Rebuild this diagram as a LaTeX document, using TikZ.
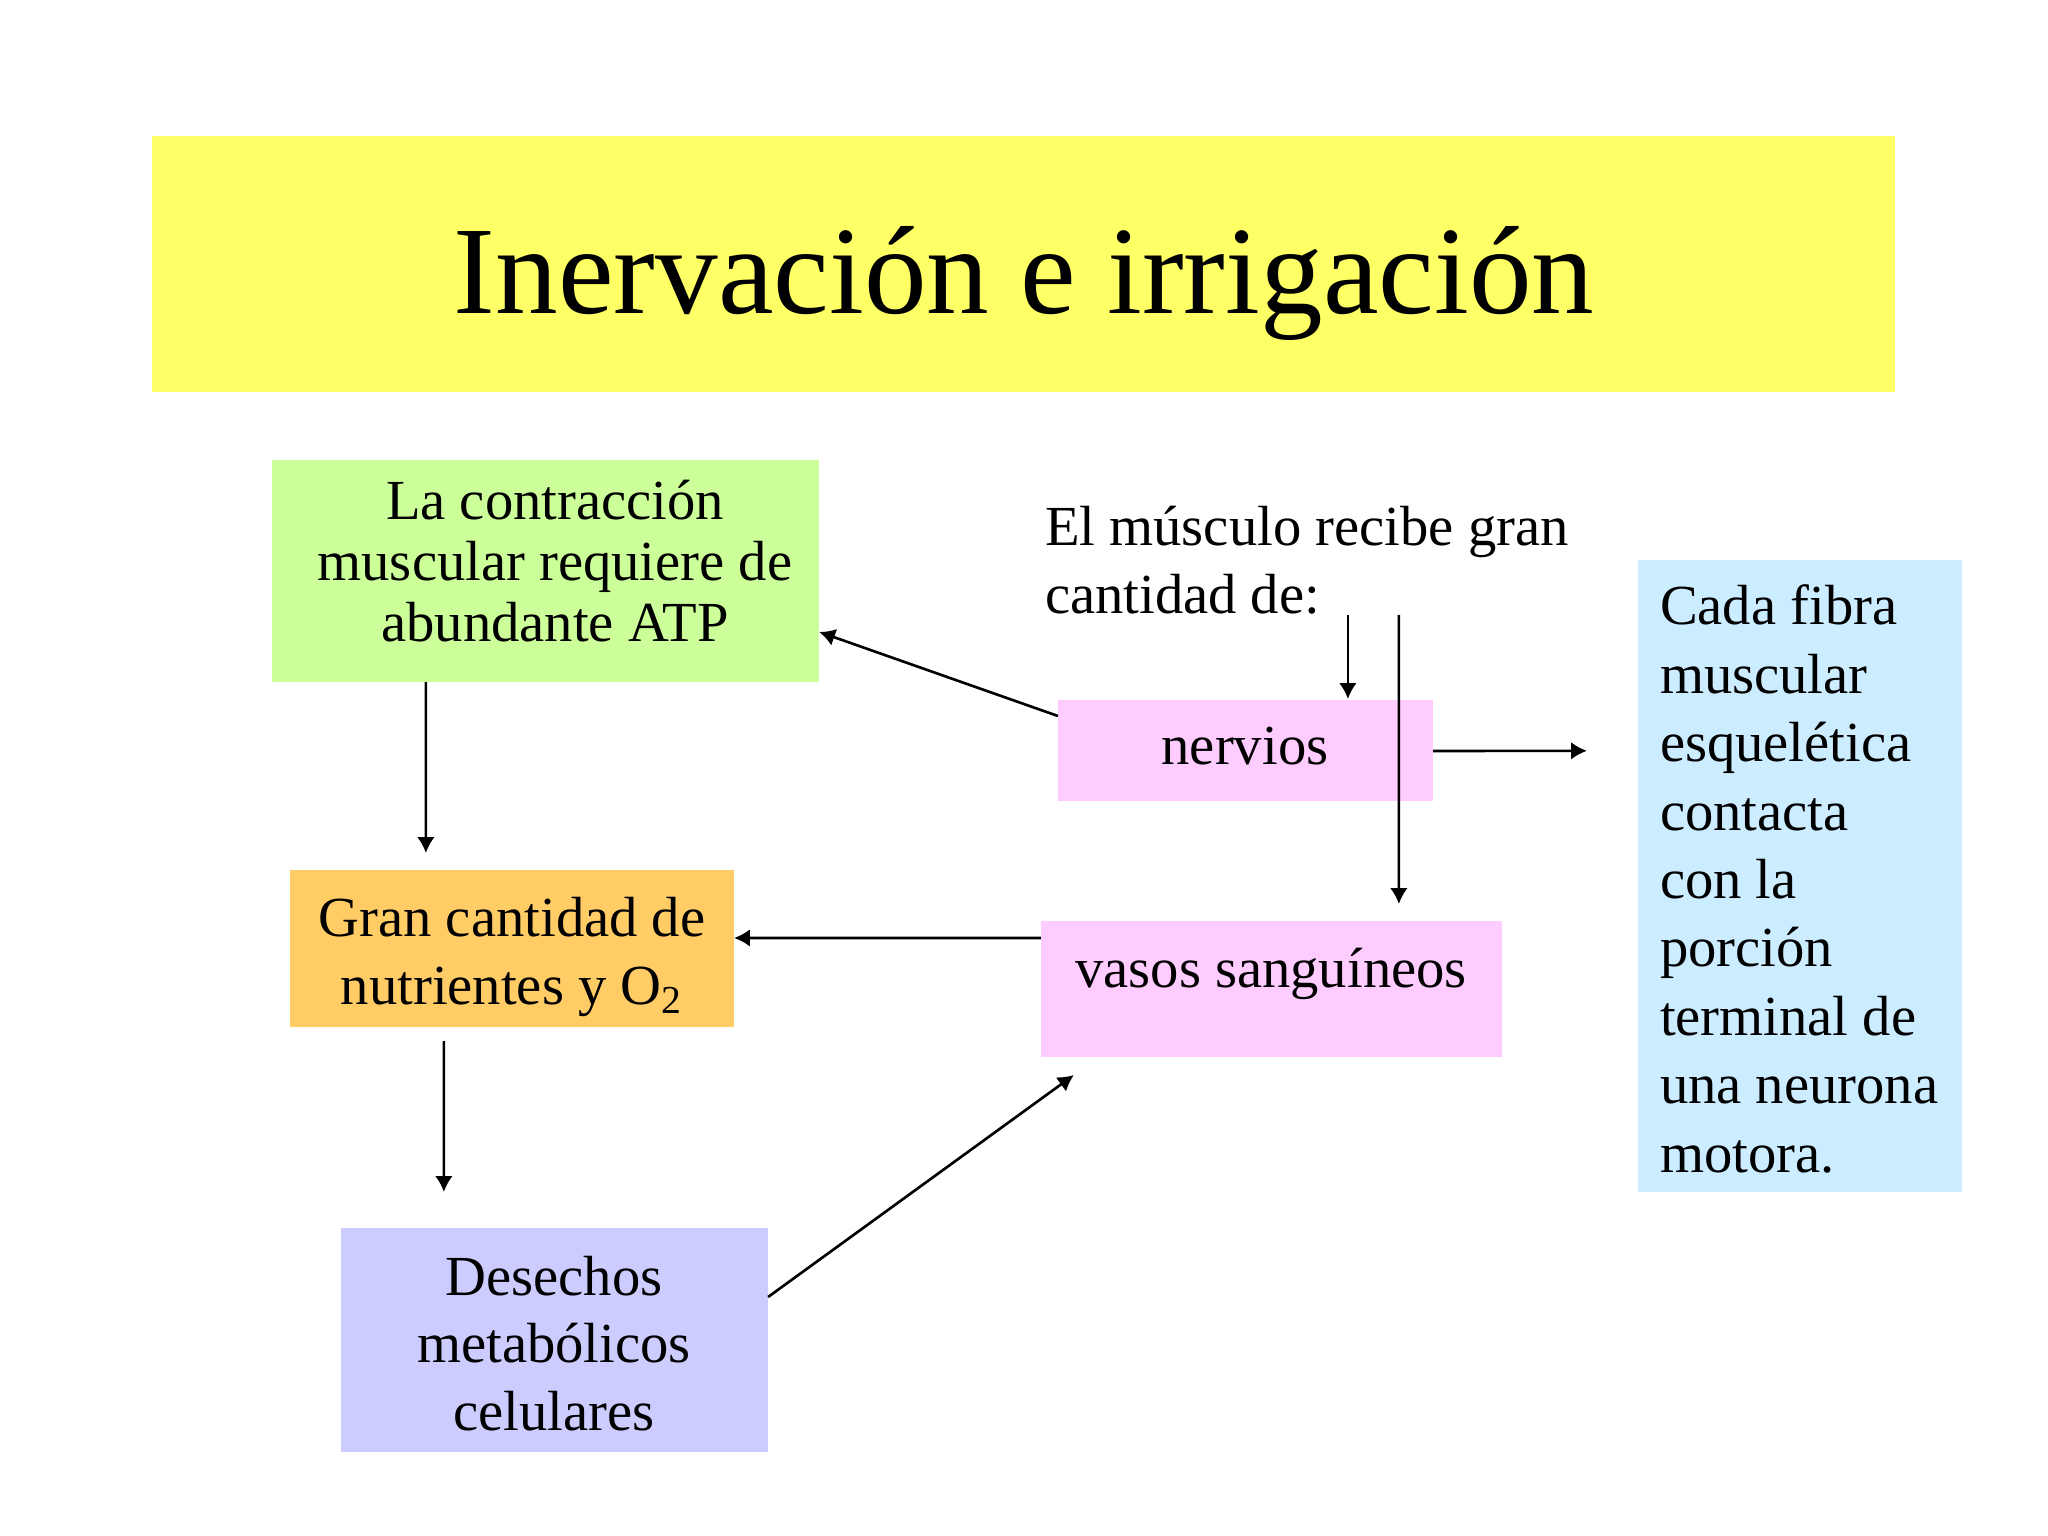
\documentclass[tikz,border=0pt]{standalone}
\usepackage{fontspec}
\setmainfont{Liberation Serif}
\usetikzlibrary{arrows.meta,calc}
\definecolor{cyellow}{HTML}{FFFF66}
\definecolor{cgreen}{HTML}{CCFF99}
\definecolor{corange}{HTML}{FFCC66}
\definecolor{cpurple}{HTML}{CCCCFF}
\definecolor{cpink}{HTML}{FFCCFF}
\definecolor{cblue}{HTML}{CCECFF}
\begin{document}
\begin{tikzpicture}[x=0.01cm,y=-0.01cm,
  box/.style={draw=none,inner sep=0pt,outer sep=0pt},
  txt/.style={inner sep=0pt,outer sep=0pt,font=\fontsize{16.1pt}{19.3pt}\selectfont},
  arr/.style={line width=0.75pt,-{Latex[length=4.5pt,width=5pt]}}]
\useasboundingbox[fill=white] (0,0) rectangle (2048,1536);
% boxes
\node[box,fill=cyellow,minimum width=17.41cm,minimum height=2.56cm] (title) at (1023.5,264) {};
\node[box,fill=cgreen,minimum width=5.47cm,minimum height=2.22cm] (green) at (545.5,571) {};
\node[box,fill=corange,minimum width=4.44cm,minimum height=1.57cm] (orange) at (512,948.5) {};
\node[box,fill=cpurple,minimum width=4.27cm,minimum height=2.24cm] (purple) at (554.5,1340) {};
\node[box,fill=cpink,minimum width=3.75cm,minimum height=1.01cm] (nerv) at (1245.5,750.5) {};
\node[box,fill=cpink,minimum width=4.61cm,minimum height=1.36cm] (vasos) at (1271.5,989) {};
\node[box,fill=cblue,minimum width=3.24cm,minimum height=6.32cm] (blue) at (1800,876) {};
% texts
\node[inner sep=0pt,anchor=base,font=\fontsize{35.6pt}{40pt}\selectfont] (titletxt) at (1024,313) {Inervación e irrigación};
\node[txt,align=center,font=\fontsize{16.1pt}{17.4pt}\selectfont] (greentxt) at (555,561) {La contracción\\muscular requiere de\\abundante ATP};
\node[txt,align=center] (orangetxt) at (512,957) {Gran cantidad de\\nutrientes y O\textsubscript{2}};
\node[txt,align=center] (purpletxt) at (554,1343.5) {Desechos\\metabólicos\\celulares};
\node[txt,anchor=base] (nervtxt) at (1245,764) {nervios};
\node[txt,anchor=base] (vasostxt) at (1271,987) {vasos sanguíneos};
\node[txt,align=left,anchor=west] (musc) at (1045,560) {El músculo recibe gran\\cantidad de:};
\node[txt,align=left,anchor=west,font=\fontsize{16.1pt}{19.45pt}\selectfont] (bluetxt) at (1660,879) {Cada fibra\\muscular\\esquelética\\contacta\\con la\\porción\\terminal de\\una neurona\\motora.};
% arrows
\draw[arr] ($(nerv.north west)+(0,16)$) -- ($(green.north east)+(0,172)$);
\draw[arr] ($(green.south west)+(154,0)$) -- ($(orange.north west)+(136,-17)$);
\draw[arr] ($(vasos.north west)+(0,17)$) -- ($(orange.north east)+(0,68)$);
\draw[arr] ($(orange.south west)+(154,14)$) -- ($(purple.north west)+(103,-36)$);
\draw[arr] ($(purple.north east)+(0,69)$) -- ($(vasos.south west)+(33,18)$);
\draw[arr] ($(nerv.north west)+(290,-85)$) -- ($(nerv.north west)+(290,-1)$);
\draw[arr] ($(nerv.north west)+(341,-85)$) -- ($(vasos.north west)+(358,-17)$);
\draw[arr] ($(nerv.north east)+(0,51)$) -- ($(blue.north west)+(-51,191)$);
\end{tikzpicture}
\end{document}
